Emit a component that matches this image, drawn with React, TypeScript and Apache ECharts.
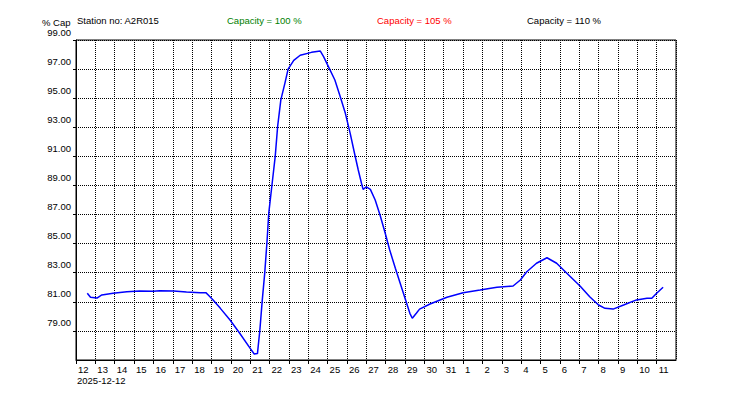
import React, { useEffect, useRef } from "react";
import * as echarts from "echarts";

// Sample times (local) and % capacity
const TIMES: string[] = [
  "2025-12-12 14:00", "2025-12-12 18:00", "2025-12-13 02:00", "2025-12-13 08:00", "2025-12-13 22:00",
  "2025-12-14 15:00", "2025-12-15 07:00", "2025-12-16 00:00", "2025-12-16 08:00", "2025-12-17 01:00",
  "2025-12-17 17:00", "2025-12-18 10:00", "2025-12-18 17:00", "2025-12-18 20:00", "2025-12-19 02:00",
  "2025-12-19 11:00", "2025-12-19 23:00", "2025-12-20 11:00", "2025-12-21 00:00", "2025-12-21 05:00",
  "2025-12-21 09:00", "2025-12-21 12:00", "2025-12-21 15:00", "2025-12-21 18:00", "2025-12-21 21:00",
  "2025-12-21 23:00", "2025-12-22 03:00", "2025-12-22 07:00", "2025-12-22 10:00", "2025-12-22 14:00",
  "2025-12-22 19:00", "2025-12-22 23:00", "2025-12-23 06:00", "2025-12-23 14:00", "2025-12-24 04:00",
  "2025-12-24 15:00", "2025-12-24 19:00", "2025-12-25 01:00", "2025-12-25 09:00", "2025-12-25 15:00",
  "2025-12-25 22:00", "2025-12-26 04:00", "2025-12-26 09:00", "2025-12-26 14:00", "2025-12-26 18:00",
  "2025-12-26 20:00", "2025-12-27 00:00", "2025-12-27 05:00", "2025-12-27 11:00", "2025-12-27 17:00",
  "2025-12-27 23:00", "2025-12-28 05:00", "2025-12-28 12:00", "2025-12-28 18:00", "2025-12-29 00:00",
  "2025-12-29 06:00", "2025-12-29 09:00", "2025-12-29 14:00", "2025-12-29 18:00", "2025-12-30 07:00",
  "2025-12-31 04:00", "2026-01-01 00:00", "2026-01-01 21:00", "2026-01-02 18:00", "2026-01-03 14:00",
  "2026-01-03 23:00", "2026-01-04 07:00", "2026-01-04 19:00", "2026-01-05 08:00", "2026-01-05 20:00",
  "2026-01-06 08:00", "2026-01-07 01:00", "2026-01-07 13:00", "2026-01-08 00:00", "2026-01-08 08:00",
  "2026-01-08 18:00", "2026-01-09 07:00", "2026-01-09 23:00", "2026-01-10 12:00", "2026-01-10 18:00",
  "2026-01-11 00:00", "2026-01-11 08:00",
];

const CAPACITY: number[] = [
  81.59, 81.31, 81.26, 81.47, 81.59,
  81.70, 81.74, 81.72, 81.76, 81.74,
  81.67, 81.63, 81.63, 81.47, 81.13,
  80.55, 79.75, 78.84, 77.80, 77.41,
  77.44, 79.06, 81.13, 82.96, 85.25,
  87.08, 89.03, 90.98, 93.04, 94.88,
  96.02, 97.00, 97.60, 97.95, 98.15,
  98.24, 97.86, 97.17, 96.25, 95.22,
  93.96, 92.58, 91.30, 90.06, 89.15,
  88.73, 88.90, 88.73, 88.00, 86.97,
  85.80, 84.56, 83.31, 82.27, 81.24,
  80.21, 79.87, 80.21, 80.50, 80.85,
  81.31, 81.63, 81.81, 82.00, 82.09,
  82.50, 83.07, 83.65, 84.03, 83.65,
  83.00, 82.09, 81.35, 80.78, 80.55,
  80.50, 80.78, 81.13, 81.24, 81.24,
  81.59, 82.00,
];

const X_START = "2025-12-12 00:00";
const X_END = "2026-01-12 00:00";
const Y_MIN = 77;
const Y_MAX = 99;
const Y_STEP = 2;

const HEADER_LABELS = [
  { text: "Station no: A2R015", color: "#000000" },
  { text: "Capacity = 100 %", color: "#008000" },
  { text: "Capacity = 105 %", color: "#ff0000" },
  { text: "Capacity = 110 %", color: "#000000" },
];
const Y_TITLE = "% Cap";
const DATE_LABEL = "2025-12-12";

function parseLocal(s: string): number {
  const [d, t] = s.split(" ");
  const [y, m, day] = d.split("-").map(Number);
  const [h, mi] = t.split(":").map(Number);
  return new Date(y, m - 1, day, h, mi).getTime();
}

const DAY = 86400000;
const FONT = "'Liberation Sans', Arial, sans-serif";
const FS = 9.5;

export default function App() {
  const ref = useRef<HTMLDivElement>(null);
  useEffect(() => {
    if (!ref.current) return;
    const chart = echarts.init(ref.current, undefined, { renderer: "svg" });
    const data = TIMES.map((t, i) => [parseLocal(t), CAPACITY[i]]);
    const headerX = [77, 227, 377, 527];
    chart.setOption({
      animation: false,
      backgroundColor: "#ffffff",
      textStyle: { fontFamily: FONT },
      grid: {
        left: 76,
        top: 40,
        width: 600,
        height: 320,
        show: true,
        borderColor: "#000000",
        borderWidth: 1,
        backgroundColor: "transparent",
      },
      xAxis: {
        type: "value",
        min: parseLocal(X_START),
        max: parseLocal(X_END),
        interval: DAY,
        axisLine: { show: true, lineStyle: { color: "#000", width: 1 } },
        axisTick: { show: true, length: 4, lineStyle: { color: "#000" } },
        axisLabel: {
          show: true,
          showMaxLabel: false,
          showMinLabel: true,
          hideOverlap: false,
          align: "left",
          padding: [0, 0, 0, 2],
          margin: 4,
          color: "#000",
          fontSize: FS,
          fontFamily: FONT,
          formatter: (v: number) => String(new Date(v).getDate()),
        },
        splitLine: { show: true, lineStyle: { color: "#000", type: "dotted", width: 1 } },
      },
      yAxis: {
        type: "value",
        min: Y_MIN,
        max: Y_MAX,
        interval: Y_STEP,
        axisLine: { show: true, lineStyle: { color: "#000", width: 1 } },
        axisTick: { show: true, length: 3, lineStyle: { color: "#000" } },
        axisLabel: {
          showMinLabel: false,
          showMaxLabel: true,
          verticalAlign: "bottom",
          padding: [0, 0, 3, 0],
          margin: 5,
          color: "#000",
          fontSize: FS,
          fontFamily: FONT,
          formatter: (v: number) => v.toFixed(2),
        },
        splitLine: { show: true, lineStyle: { color: "#000", type: "dotted", width: 1 } },
      },
      series: [
        {
          type: "line",
          data,
          showSymbol: false,
          symbol: "none",
          lineStyle: { color: "#0000ff", width: 1.5 },
          z: 3,
        },
      ],
      graphic: [
        {
          type: "text",
          left: 42,
          top: 17,
          style: { text: Y_TITLE, fill: "#000", font: `${FS}px ${FONT}` },
        },
        ...HEADER_LABELS.map((h, i) => ({
          type: "text",
          left: headerX[i],
          top: 15,
          style: { text: h.text, fill: h.color, font: `${FS}px ${FONT}` },
        })),
        {
          type: "text",
          left: 77,
          top: 375,
          style: { text: DATE_LABEL, fill: "#000", font: `${FS}px ${FONT}` },
        },
      ],
    });
    return () => chart.dispose();
  }, []);
  return (
    <div
      ref={ref}
      style={{ position: "fixed", left: 0, top: 0, width: 750, height: 400, background: "#fff" }}
    />
  );
}
